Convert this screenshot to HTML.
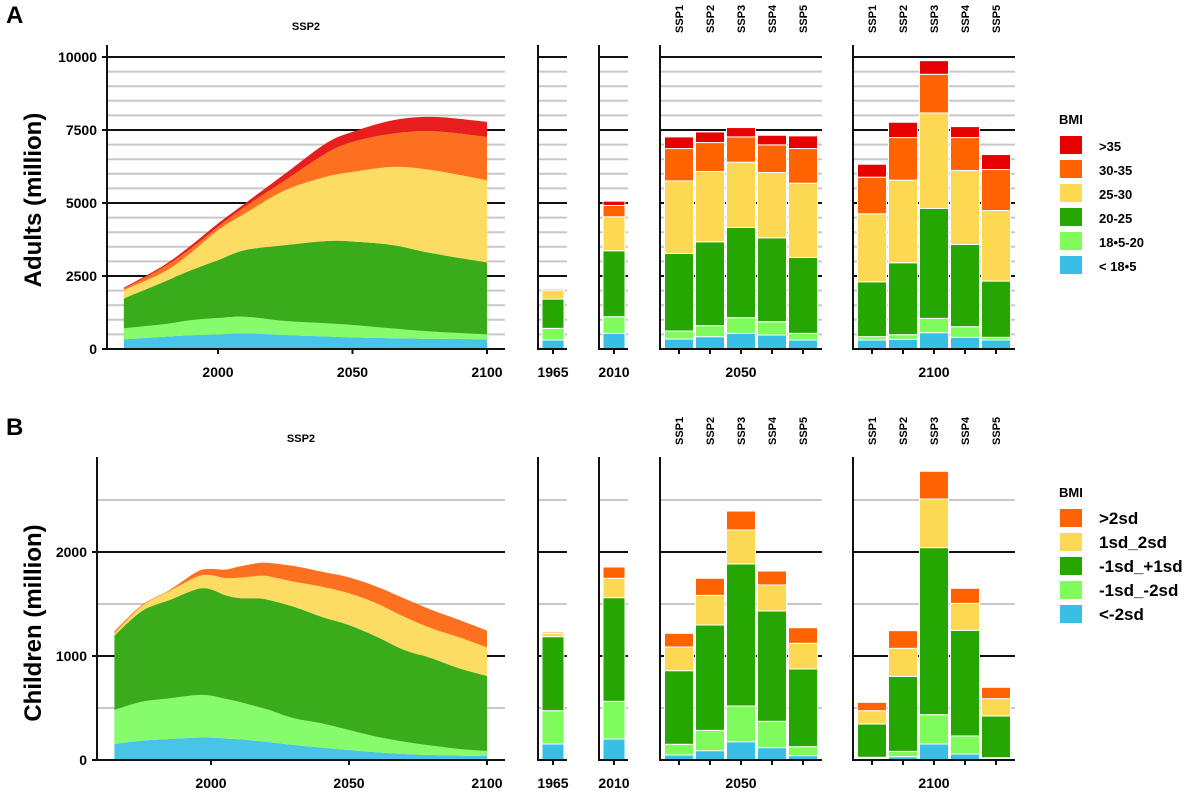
<!DOCTYPE html>
<html><head><meta charset="utf-8">
<style>
body{margin:0;background:#fff;}
svg{display:block;font-family:"Liberation Sans",sans-serif;font-weight:bold;}
</style></head>
<body>
<svg id="c" width="1200" height="792"></svg>
<script>
// ---------- DATA ----------
const adultLayers = ["<18.5","18.5-20","20-25","25-30","30-35",">35"];
const childLayers = ["<-2sd","-1sd_-2sd","-1sd_+1sd","1sd_2sd",">2sd"];
const scenarios = ["SSP1","SSP2","SSP3","SSP4","SSP5"];
const adultYears = [1965,1980,1990,2000,2010,2025,2040,2050,2065,2080,2100];
const adultBlueTop   = [330,420,470,500,536,480,430,400,370,350,330];
const adultLgTop     = [707,850,990,1060,1106,958,880,821,700,593,502];
const adultGreenTop  = [1733,2303,2700,3045,3387,3558,3695,3683,3558,3273,2965];
const adultYellowTop = [2018,2645,3300,4070,4640,5439,5895,6066,6237,6123,5781];
const adultOrangeTop = [2064,2816,3450,4185,4870,5781,6693,7092,7377,7457,7263];
const adultRedTop    = [2098,2873,3550,4298,4983,6009,7035,7434,7834,7948,7777];
const adult1965 = [308,707,1710,2018,2064,2087];
const adult2010 = [536,1106,3364,4527,4915,5063];
const adult2050 = [[342,616,3273,5758,6864,7263],[422,798,3672,6078,7070,7434],[536,1072,4162,6397,7263,7583],[479,935,3808,6043,6990,7320],[308,536,3136,5678,6864,7298]];
const adult2100 = [[308,422,2303,4629,5884,6328],[331,490,2953,5781,7241,7765],[559,1049,4812,8084,9407,9875],[399,764,3580,6112,7241,7617],[308,399,2326,4743,6146,6659]];
const childYears = [1965,1975,1985,1995,2000,2005,2010,2015,2020,2030,2040,2050,2060,2070,2080,2090,2100];
const childBlueTop   = [154,186,202,215,215,207,199,188,176,144,119,96,74,58,48,42,38];
const childLgTop     = [481,561,593,625,619,590,561,525,490,401,353,288,224,176,138,106,87];
const childGreenTop  = [1196,1433,1538,1644,1641,1587,1558,1555,1545,1474,1378,1298,1186,1058,978,881,808];
const childYellowTop = [1218,1481,1625,1763,1776,1750,1753,1765,1769,1715,1667,1603,1506,1378,1266,1179,1083];
const childOrangeTop = [1237,1490,1635,1811,1837,1830,1859,1885,1897,1865,1811,1756,1667,1554,1442,1346,1244];
const child1965 = [154,474,1186,1218,1231];
const child2010 = [202,564,1561,1747,1856];
const child2050 = [[48,151,859,1087,1218],[90,285,1298,1583,1747],[176,519,1885,2212,2394],[119,372,1433,1683,1817],[42,128,875,1122,1272]];
const child2100 = [[16,26,346,474,554],[32,83,804,1074,1244],[154,436,2042,2510,2776],[58,231,1247,1506,1651],[16,22,423,590,699]];
const adultTicks = [0,2500,5000,7500,10000];
const childTicks = [0,1000,2000];
const yearTicks = [2000,2050,2100];

// ---------- DRAW ----------
const NS="http://www.w3.org/2000/svg";
const svg=document.getElementById('c');
function el(tag,attrs,parent,text){const e=document.createElementNS(NS,tag);for(const k in attrs)e.setAttribute(k,attrs[k]);if(text!==undefined)e.textContent=text;(parent||svg).appendChild(e);return e;}
const barCols=["#38bfe6","#7ffc5c","#25a600","#fdd853","#ff6200","#e60000"];
const areaCols=["#47c4e8","#86fb6c","#3aab1b","#fddc64","#fd7020","#e81d1d"];
const childBarCols=["#38bfe6","#7ffc5c","#25a600","#fdd853","#ff6200"];
const childAreaCols=["#47c4e8","#86fb6c","#3aab1b","#fddc64","#fd7020"];

function smooth(pts){ // catmull-rom to bezier
  let d='';
  for(let i=0;i<pts.length-1;i++){
    const p0=pts[Math.max(0,i-1)],p1=pts[i],p2=pts[i+1],p3=pts[Math.min(pts.length-1,i+2)];
    const c1=[p1[0]+(p2[0]-p0[0])/6,p1[1]+(p2[1]-p0[1])/6];
    const c2=[p2[0]-(p3[0]-p1[0])/6,p2[1]-(p3[1]-p1[1])/6];
    d+='C'+c1+' '+c2+' '+p2;
  }
  return d;
}

function row(cfg){
  const y=v=>cfg.y0-(v/cfg.unit)*cfg.px;
  const g=el('g',{},svg);
  
  
  const panels=[[cfg.areaX0,505],[538,567],[599,628],[660,822],[853,1015]];
  panels.forEach(p=>{
    cfg.grid.forEach(v=>{
      const major=cfg.major.includes(v);
      const ln=el('line',{x1:p[0],x2:p[1],y1:y(v),y2:y(v),stroke:major?'#111':'#c8c8c8','stroke-width':2},g);
      
      
    });
  });
  const xs=yr=>cfg.ax2000+(yr-2000)/50*cfg.ax50;
  let prev=cfg.years.map(()=>0);
  cfg.areaTops.forEach((tops,i)=>{
    const top=cfg.years.map((yr,j)=>[xs(yr),y(tops[j])]);
    const bot=cfg.years.map((yr,j)=>[xs(yr),y(prev[j])]).reverse();
    let d='M'+top[0]+smooth(top)+'L'+bot[0]+smooth(bot)+'Z';
    const p=el('path',{d:d,fill:cfg.areaCols[i]},g);
    
    
    prev=tops;
  });
  function barW(cx,w,tops,label){
    let b=0;
    tops.forEach((t,i)=>{
      const r=el('rect',{x:cx-w/2,y:y(t),width:w,height:y(b)-y(t),fill:cfg.barCols[i],stroke:'#fff','stroke-width':1},g);
      
      
      b=t;
    });
  }
  barW(553,22,cfg.b1965,'1965');
  barW(614,22,cfg.b2010,'2010');
  const c50=[679,710,741,772,803],c100=[872,903,934,965,996];
  cfg.b2050.forEach((t,i)=>barW(c50[i],29,t,'2050-'+scenarios[i]));
  cfg.b2100.forEach((t,i)=>barW(c100[i],29,t,'2100-'+scenarios[i]));
  panels.forEach(p=>{
    el('line',{x1:p[0],x2:p[0],y1:cfg.top,y2:cfg.y0+1,stroke:'#111','stroke-width':2},g);
    el('line',{x1:p[0],x2:p[1],y1:cfg.y0,y2:cfg.y0,stroke:'#111','stroke-width':2},g);
  });
  const tick=(x)=>el('line',{x1:x,x2:x,y1:cfg.y0,y2:cfg.y0+5,stroke:'#111','stroke-width':2},g);
  yearTicks.forEach(yr=>{tick(xs(yr));const t=el('text',{x:xs(yr),y:cfg.y0+28,'text-anchor':'middle','font-size':14},g,yr);});
  [553,614].forEach(tick);c50.forEach(tick);c100.forEach(tick);
  [[553,'1965'],[614,'2010'],[741,'2050'],[934,'2100']].forEach(a=>{const t=el('text',{x:a[0],y:cfg.y0+28,'text-anchor':'middle','font-size':14},g,a[1]);});
  cfg.ticks.forEach(v=>{el('line',{x1:cfg.areaX0-5,x2:cfg.areaX0,y1:y(v),y2:y(v),stroke:'#111','stroke-width':2},g);
    const t=el('text',{x:cfg.areaX0-10,y:y(v)+5,'text-anchor':'end','font-size':14},g,v);});
  const ft=el('text',{x:cfg.areaX0+(505-cfg.areaX0)/2,y:cfg.top-15,'text-anchor':'middle','font-size':11},g,'SSP2');
  
  c50.concat(c100).forEach((cx,i)=>{const t=el('text',{transform:`translate(${cx+4},${cfg.top-12}) rotate(-90)`,'font-size':11},g,scenarios[i%5]);});
  const yl=el('text',{transform:`translate(41,${cfg.ylY}) rotate(-90)`,'text-anchor':'middle','font-size':24},g,cfg.ytitle);
  
  const pl=el('text',{x:6,y:cfg.top-22,'font-size':24},g,cfg.letter);
  
  const lt=el('text',{x:1059,y:cfg.legY,'font-size':13},g,'BMI');
  cfg.legLabels.forEach((s,i)=>{
    const ly=cfg.legY+12+i*24;
    const r=el('rect',{x:1060,y:ly,width:22,height:18,fill:cfg.legCols[i]},g);
    
    const t=el('text',{x:1099,y:ly+15,'font-size':cfg.legFont},g,s);
    
  });
}
function grid(max,step){const a=[];for(let v=0;v<=max;v+=step)a.push(v);return a;}
row({name:'adults',letter:'A',y0:349,top:45,unit:2500,px:73,areaX0:107,ax2000:218,ax50:134.5,
  years:adultYears,areaTops:[adultBlueTop,adultLgTop,adultGreenTop,adultYellowTop,adultOrangeTop,adultRedTop],
  layers:adultLayers,areaCols:areaCols,barCols:barCols,b1965:adult1965,b2010:adult2010,b2050:adult2050,b2100:adult2100,
  grid:grid(10000,500),major:[2500,5000,7500,10000],ticks:adultTicks,ytitle:'Adults (million)',ylY:200,
  legY:124,legLabels:['>35','30-35','25-30','20-25','18•5-20','<  18•5'],legCols:barCols.slice().reverse(),legFont:13});
row({name:'children',letter:'B',y0:760,top:457,unit:500,px:52,areaX0:97,ax2000:211,ax50:138,
  years:childYears,areaTops:[childBlueTop,childLgTop,childGreenTop,childYellowTop,childOrangeTop],
  layers:childLayers,areaCols:childAreaCols,barCols:childBarCols,b1965:child1965,b2010:child2010,b2050:child2050,b2100:child2100,
  grid:[500,1000,1500,2000,2500],major:[1000,2000],ticks:childTicks,ytitle:'Children (million)',ylY:623,
  legY:497,legLabels:['>2sd','1sd_2sd','-1sd_+1sd','-1sd_-2sd','<-2sd'],legCols:childBarCols.slice().reverse(),legFont:17});
</script>
</body></html>
